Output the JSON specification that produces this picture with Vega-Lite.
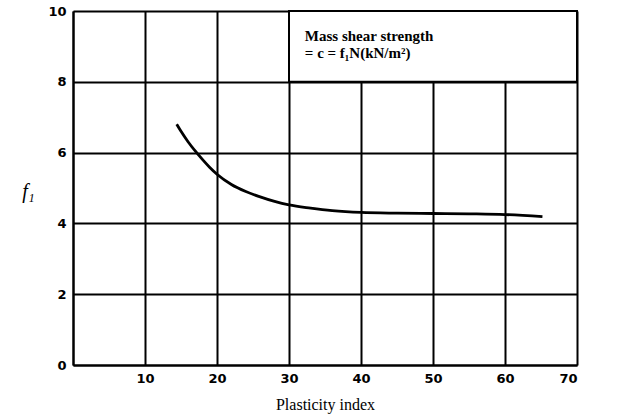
{
  "$schema": "https://vega.github.io/schema/vega-lite/v6.json",
  "width": 504,
  "height": 354,
  "autosize": "none",
  "padding": {"left": 73, "top": 11, "right": 41, "bottom": 55},
  "background": "white",
  "config": {
    "view": {"stroke": null},
    "font": "Liberation Serif"
  },
  "datasets": {
    "curve": [
      {"pi": 14.4, "f1": 6.8},
      {"pi": 15, "f1": 6.6},
      {"pi": 16, "f1": 6.3},
      {"pi": 17, "f1": 6.04},
      {"pi": 18, "f1": 5.8},
      {"pi": 19, "f1": 5.58},
      {"pi": 20, "f1": 5.39},
      {"pi": 22, "f1": 5.1},
      {"pi": 24, "f1": 4.9},
      {"pi": 26, "f1": 4.75},
      {"pi": 28, "f1": 4.62},
      {"pi": 30, "f1": 4.52},
      {"pi": 33, "f1": 4.43},
      {"pi": 36, "f1": 4.36},
      {"pi": 40, "f1": 4.31},
      {"pi": 45, "f1": 4.29},
      {"pi": 50, "f1": 4.28},
      {"pi": 55, "f1": 4.27},
      {"pi": 60, "f1": 4.25},
      {"pi": 65.2, "f1": 4.19}
    ],
    "box": [{"x1": 30, "x2": 70, "y1": 8, "y2": 10}],
    "note": [
      {"x": 32.2, "y": 9.3, "label": "Mass shear strength"},
      {"x": 32.2, "y": 8.8, "label": "= c = f₁N(kN/m²)"}
    ]
  },
  "layer": [
    {
      "data": {"name": "curve"},
      "mark": {"type": "line", "color": "black", "strokeWidth": 2.8, "interpolate": "monotone"},
      "encoding": {
        "x": {
          "field": "pi", "type": "quantitative",
          "scale": {"domain": [0, 70], "nice": false},
          "axis": {
            "title": "Plasticity index",
            "titleFont": "Liberation Serif", "titleFontSize": 16, "titleFontWeight": "normal", "titleColor": "black",
            "titlePadding": 11,
            "values": [0, 10, 20, 30, 40, 50, 60, 70],
            "labelExpr": "datum.value == 0 ? '' : datum.label",
            "labelFont": "DejaVu Sans", "labelFontWeight": "bold", "labelFontSize": 13, "labelColor": "black",
            "labelPadding": 7,
            "ticks": false,
            "domainColor": "black", "domainWidth": 2,
            "grid": true, "gridColor": "black", "gridWidth": 2, "gridOpacity": 1
          }
        },
        "y": {
          "field": "f1", "type": "quantitative",
          "scale": {"domain": [0, 10], "nice": false},
          "axis": {
            "title": "f₁",
            "titleAngle": 0,
            "titleFont": "Liberation Serif", "titleFontStyle": "italic", "titleFontSize": 20, "titleFontWeight": "normal", "titleColor": "black",
            "titleAlign": "center", "titleBaseline": "middle",
            "titleX": -45, "titleY": 180,
            "values": [0, 2, 4, 6, 8, 10],
            "labelFont": "DejaVu Sans", "labelFontWeight": "bold", "labelFontSize": 13, "labelColor": "black",
            "labelPadding": 7,
            "ticks": false,
            "domainColor": "black", "domainWidth": 2,
            "grid": true, "gridColor": "black", "gridWidth": 2, "gridOpacity": 1
          }
        }
      }
    },
    {
      "data": {"name": "box"},
      "mark": {"type": "rect", "fill": "white", "stroke": "black", "strokeWidth": 2},
      "encoding": {
        "x": {"field": "x1", "type": "quantitative"},
        "x2": {"field": "x2"},
        "y": {"field": "y1", "type": "quantitative"},
        "y2": {"field": "y2"}
      }
    },
    {
      "data": {"name": "note"},
      "mark": {"type": "text", "align": "left", "baseline": "middle", "font": "Liberation Serif", "fontSize": 15, "fontWeight": "bold", "color": "black"},
      "encoding": {
        "x": {"field": "x", "type": "quantitative"},
        "y": {"field": "y", "type": "quantitative"},
        "text": {"field": "label"}
      }
    }
  ]
}
